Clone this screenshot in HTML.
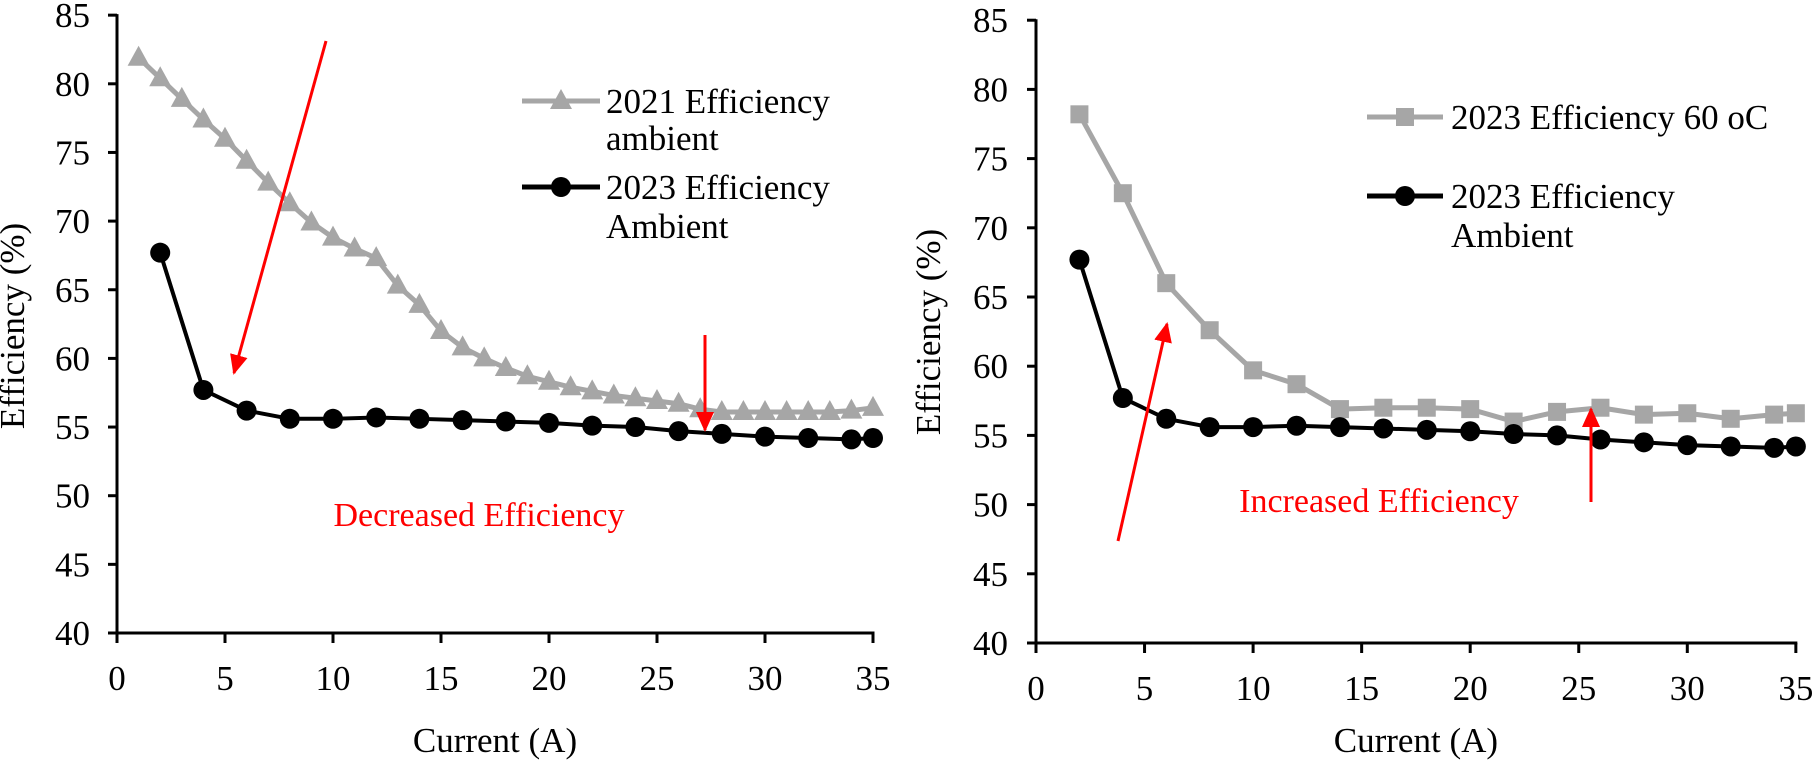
<!DOCTYPE html>
<html><head><meta charset="utf-8">
<style>
html,body{margin:0;padding:0;background:#fff;}
svg{display:block;}
text{font-family:"Liberation Serif",serif;}
</style></head>
<body>
<svg id="s" width="1816" height="762" viewBox="0 0 1816 762" xmlns="http://www.w3.org/2000/svg">
<defs>
<marker id="ah" markerWidth="20" markerHeight="20" refX="18" refY="9" orient="auto" markerUnits="userSpaceOnUse" viewBox="0 0 20 18"><path d="M0,0 L20,9 L0,18 z" fill="#ff0000"/></marker>
</defs>
<g id="g"></g>
</svg>
<script>
const NS="http://www.w3.org/2000/svg";
const g=document.getElementById('g');
function el(t,a,txt){const e=document.createElementNS(NS,t);for(const k in a)e.setAttribute(k,a[k]);if(txt!==undefined)e.textContent=txt;g.appendChild(e);return e;}
function chart(x0,sx,y0,sy,ylabX,yTitleX,yTitleY){
  const X=v=>x0+sx*v, Y=v=>y0-(v-40)*sy;
  el('line',{x1:X(0),y1:Y(85)-1,x2:X(0),y2:Y(40)+1.5,stroke:'#000','stroke-width':3});
  el('line',{x1:X(0)-1.5,y1:Y(40),x2:X(35)+1.5,y2:Y(40),stroke:'#000','stroke-width':3});
  for(let v=40;v<=85;v+=5){
    el('line',{x1:X(0)-9,y1:Y(v),x2:X(0),y2:Y(v),stroke:'#000','stroke-width':3});
    el('text',{x:ylabX,y:Y(v)+12,'text-anchor':'end','font-size':35},v);
  }
  for(let v=0;v<=35;v+=5){
    el('line',{x1:X(v),y1:Y(40),x2:X(v),y2:Y(40)+10,stroke:'#000','stroke-width':3});
    el('text',{x:X(v),y:Y(40)+57,'text-anchor':'middle','font-size':35},v);
  }
  el('text',{x:(X(0)+X(35))/2,y:752,'text-anchor':'middle','font-size':35},'Current (A)');
  el('text',{x:0,y:0,'text-anchor':'middle','font-size':35,transform:`translate(${yTitleX},${yTitleY}) rotate(-90)`},'Efficiency (%)');
  return [X,Y];
}
function series(X,Y,xs,vs,color,w,mk){
  el('polyline',{points:xs.map((x,i)=>X(x)+','+Y(vs[i])).join(' '),fill:'none',stroke:color,'stroke-width':w,'stroke-linejoin':'round'});
  xs.forEach((x,i)=>mark(X(x),Y(vs[i]),color,mk));
}
function mark(cx,cy,color,mk){
  if(mk=='c')el('circle',{cx,cy,r:10,fill:color});
  else if(mk=='t')el('path',{d:`M${cx},${cy-12} L${cx+11},${cy+8} L${cx-11},${cy+8} Z`,fill:color});
  else el('rect',{x:cx-9,y:cy-9,width:18,height:18,fill:color});
}
const blackX=[2,4,6,8,10,12,14,16,18,20,22,24,26,28,30,32,34,35];
const blackV=[67.7,57.7,56.2,55.6,55.6,55.7,55.6,55.5,55.4,55.3,55.1,55.0,54.7,54.5,54.3,54.2,54.1,54.2];
let [X,Y]=chart(117,21.6,633,13.73,90,24,326);
const gx=[],gv=[81.9,80.4,78.9,77.4,76.0,74.4,72.8,71.3,69.9,68.8,68.0,67.3,65.3,63.9,62.0,60.8,60.0,59.3,58.7,58.3,57.9,57.6,57.3,57.1,56.9,56.7,56.3,56.1,56.1,56.1,56.1,56.1,56.1,56.2,56.4];
for(let i=1;i<=35;i++)gx.push(i);
series(X,Y,gx,gv,'#a6a6a6',5,'t');
series(X,Y,blackX,blackV,'#000',4,'c');
el('line',{x1:522,y1:101,x2:600,y2:101,stroke:'#a6a6a6','stroke-width':5});mark(561,101,'#a6a6a6','t');
el('text',{x:606,y:113,'font-size':35},'2021 Efficiency');
el('text',{x:606,y:150,'font-size':35},'ambient');
el('line',{x1:522,y1:187,x2:600,y2:187,stroke:'#000','stroke-width':5});mark(561,187,'#000','c');
el('text',{x:606,y:199,'font-size':35},'2023 Efficiency');
el('text',{x:606,y:238,'font-size':35},'Ambient');
el('line',{x1:326,y1:41,x2:234,y2:373,stroke:'#f00','stroke-width':3,'marker-end':'url(#ah)'});
el('line',{x1:705,y1:335,x2:705,y2:430,stroke:'#f00','stroke-width':3,'marker-end':'url(#ah)'});
el('text',{x:479,y:526,'text-anchor':'middle','font-size':34,fill:'#f00'},'Decreased Efficiency');
[X,Y]=chart(1036,21.71,643,13.84,1008,940,332);
const rv=[78.2,72.5,66.0,62.6,59.7,58.7,56.9,57.0,57.0,56.9,56.0,56.7,57.0,56.5,56.6,56.2,56.5,56.6];
series(X,Y,blackX,rv,'#a6a6a6',5,'s');
series(X,Y,blackX,blackV,'#000',4,'c');
el('line',{x1:1367,y1:117,x2:1443,y2:117,stroke:'#a6a6a6','stroke-width':5});mark(1405,117,'#a6a6a6','s');
el('text',{x:1451,y:129,'font-size':35},'2023 Efficiency 60 oC');
el('line',{x1:1367,y1:196,x2:1443,y2:196,stroke:'#000','stroke-width':5});mark(1405,196,'#000','c');
el('text',{x:1451,y:208,'font-size':35},'2023 Efficiency');
el('text',{x:1451,y:247,'font-size':35},'Ambient');
el('line',{x1:1118,y1:541,x2:1167,y2:324,stroke:'#f00','stroke-width':3,'marker-end':'url(#ah)'});
el('line',{x1:1591,y1:502,x2:1591,y2:409,stroke:'#f00','stroke-width':3,'marker-end':'url(#ah)'});
el('text',{x:1379,y:512,'text-anchor':'middle','font-size':34,fill:'#f00'},'Increased Efficiency');
</script>
</body></html>
